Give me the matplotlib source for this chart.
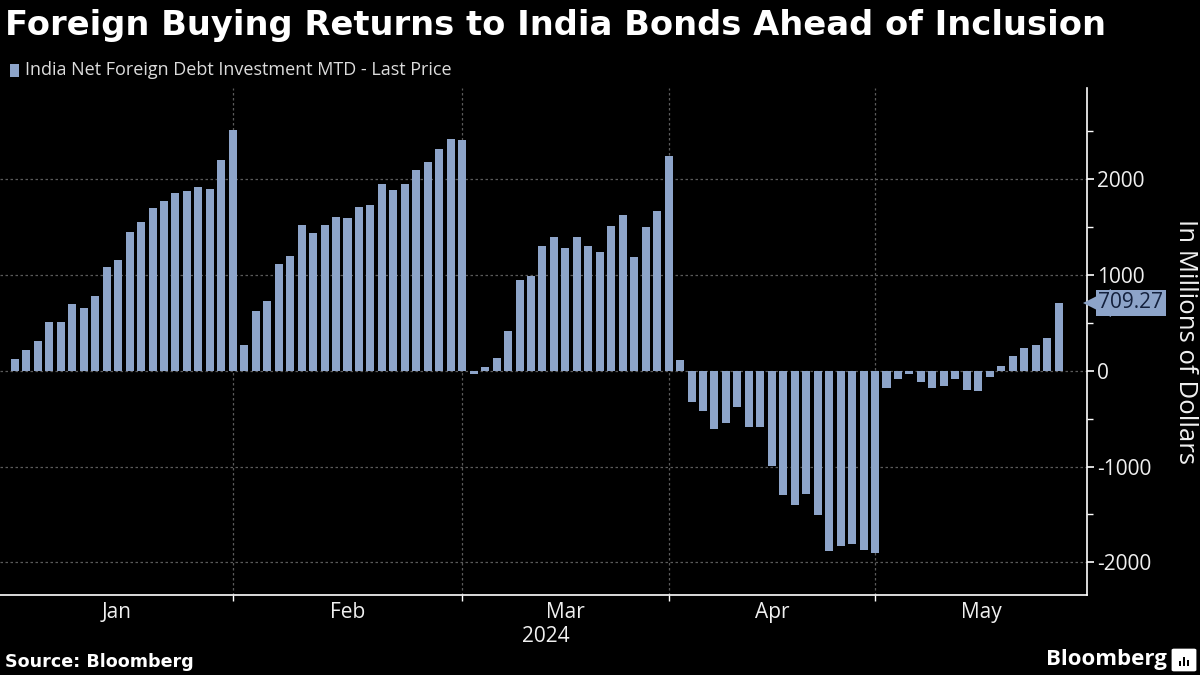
import matplotlib
matplotlib.use("Agg")
import matplotlib.pyplot as plt
import matplotlib.transforms as mtransforms
from matplotlib.patches import FancyBboxPatch, Rectangle
import numpy as np

# ---------------- data ----------------
months = ["Jan", "Feb", "Mar", "Apr", "May"]
year_label = "2024"
jan = [121, 215, 309, 507, 514, 694, 659, 777, 1086, 1162, 1454, 1558, 1700, 1777,
       1860, 1877, 1919, 1898, 2200, 2512]
feb = [270, 621, 727, 1121, 1195, 1525, 1440, 1525, 1610, 1599, 1706, 1727, 1947,
       1890, 1947, 2099, 2177, 2312, 2418, 2411]
mar = [-28, 42, 137, 412, 950, 993, 1302, 1394, 1278, 1394, 1299, 1246, 1510, 1626,
       1193, 1500, 1668, 2239]
apr = [114, -322, -422, -609, -547, -381, -588, -588, -997, -1298, -1401, -1287,
       -1502, -1886, -1827, -1813, -1868, -1906]
may = [-174, -80, -38, -121, -184, -163, -90, -205, -215, -59, 52, 156, 239, 274,
       343, 709.27]
series_name = "India Net Foreign Debt Investment MTD - Last Price"
title = "Foreign Buying Returns to India Bonds Ahead of Inclusion"
ylabel = "In Millions of Dollars"
yticks = [-2000, -1000, 0, 1000, 2000]

# ---------------- style ----------------
BG = "black"
BAR = "#8da4c9"
GRID = "#5a5a5a"
TXT = "#f0f0f0"
SANS = ["Open Sans", "DejaVu Sans"]

month_data = [jan, feb, mar, apr, may]
values = np.concatenate([np.asarray(m, dtype=float) for m in month_data])
x = np.arange(len(values))
counts = [len(m) for m in month_data]
ends = np.cumsum(counts) - 1           # last bar of each month
boundaries = ends[:-1]

fig = plt.figure(figsize=(12, 6.75), dpi=100, facecolor=BG)
ax = fig.add_axes([0.0, 0.1185, 0.906, 0.751], facecolor=BG)

ax.bar(x, values, width=0.7, color=BAR, zorder=3)

xmin, xmax = -1.3, len(values) + 1.5
ax.set_xlim(xmin, xmax)
ax.set_ylim(-2341, 2953)

# grid
for yv in yticks:
    ax.axhline(yv, color=GRID, lw=0.9, ls=(0, (2, 2)), zorder=1)
for b in boundaries:
    ax.axvline(b, color=GRID, lw=0.9, ls=(0, (2, 2)), zorder=1)

# spines
for s in ["top", "left"]:
    ax.spines[s].set_visible(False)
ax.spines["bottom"].set_color("white")
ax.spines["right"].set_color("white")
ax.spines["bottom"].set_linewidth(1.2)
ax.spines["right"].set_linewidth(1.2)

# y axis on right
ax.yaxis.tick_right()
ax.set_yticks(yticks)
ax.set_yticklabels([str(v) if v >= 0 else "-" + str(abs(v)) for v in yticks])
ax.set_yticks(np.arange(-2000, 3000, 500), minor=True)
ax.tick_params(axis="y", which="major", colors="white", labelcolor=TXT, length=5,
               width=1.2, labelsize=15, pad=2)
ax.tick_params(axis="y", which="minor", colors="white", length=4, width=1.0)
for lab in ax.get_yticklabels():
    lab.set_family(SANS)

# x axis: ticks at month boundaries, labels at month centers
ax.set_xticks(boundaries)
ax.set_xticklabels([])
ax.tick_params(axis="x", which="major", colors="white", length=4, width=1.0)
starts = [xmin] + list(boundaries)
stops = list(boundaries) + [len(values) - 0.5 + 2]
centers = [(a + b) / 2 for a, b in zip(starts, stops)]
ax.set_xticks(centers, minor=True)
ax.set_xticklabels(months, minor=True)
ax.tick_params(axis="x", which="minor", length=0, labelcolor=TXT, labelsize=15, pad=5)
for lab in ax.get_xticklabels(minor=True):
    lab.set_family(SANS)

# year label under Mar
ax.text(centers[2] - 1.7, -0.062, year_label, transform=ax.get_xaxis_transform(),
        ha="center", va="top", color=TXT, fontsize=15, family=SANS)

# y label
fig.text(0.988, 0.494, ylabel, rotation=-90, ha="center", va="center", color=TXT,
         fontsize=18.5, family=SANS)

# last value tag
last = values[-1]
trans = mtransforms.blended_transform_factory(ax.transAxes, ax.transData)
tag_off = mtransforms.offset_copy(trans, fig=fig, x=11, y=0, units="dots")
ax.text(1.0, last, f"{last:.2f}", transform=tag_off, ha="left", va="center",
        fontsize=15, color="#14213d", family=SANS, clip_on=False, zorder=5,
        bbox=dict(boxstyle="square,pad=0.12", fc=BAR, ec="none"))
tri_off = mtransforms.offset_copy(trans, fig=fig, x=10, y=0, units="dots")
ax.plot([1.0], [last], marker="<", ms=20, color=BAR, transform=tri_off,
        clip_on=False, zorder=4, markeredgewidth=0)

# title (fit to width)
t = fig.text(5 / 1200, 1 - 25 / 675, title, ha="left", va="center", color="white",
             fontsize=24, fontweight="bold", family="DejaVu Sans")
fig.canvas.draw()
w = t.get_window_extent().width
t.set_fontsize(24 * 1100 / w)

# legend
fig.patches.append(Rectangle((10 / 1200, 1 - 77 / 675), 9 / 1200, 13 / 675,
                             transform=fig.transFigure, fc=BAR, ec="none"))
fig.text(25 / 1200, 1 - 70 / 675, series_name, ha="left", va="center",
         color="#dcdcdc", fontsize=13, family=SANS)

# source
fig.text(5 / 1200, 1 - 662 / 675, "Source: Bloomberg", ha="left", va="center",
         color="white", fontsize=12.6, fontweight="bold", family="DejaVu Sans")

# Bloomberg logo
fig.text(1167 / 1200, 1 - 660 / 675, "Bloomberg", ha="right", va="center",
         color="white", fontsize=16, fontweight="bold", family=SANS)
fig.patches.append(FancyBboxPatch((1174 / 1200, 1 - 670 / 675), 20 / 1200, 20 / 675,
                                  boxstyle="round,pad=0.002", transform=fig.transFigure,
                                  fc="white", ec="none"))
for i, hgt in enumerate([5, 9, 6]):
    fig.patches.append(Rectangle(((1179 + i * 4) / 1200, 1 - 666 / 675), 2 / 1200,
                                 hgt / 675, transform=fig.transFigure, fc="black",
                                 ec="none"))

fig.savefig("out.png", dpi=100, facecolor=BG)
